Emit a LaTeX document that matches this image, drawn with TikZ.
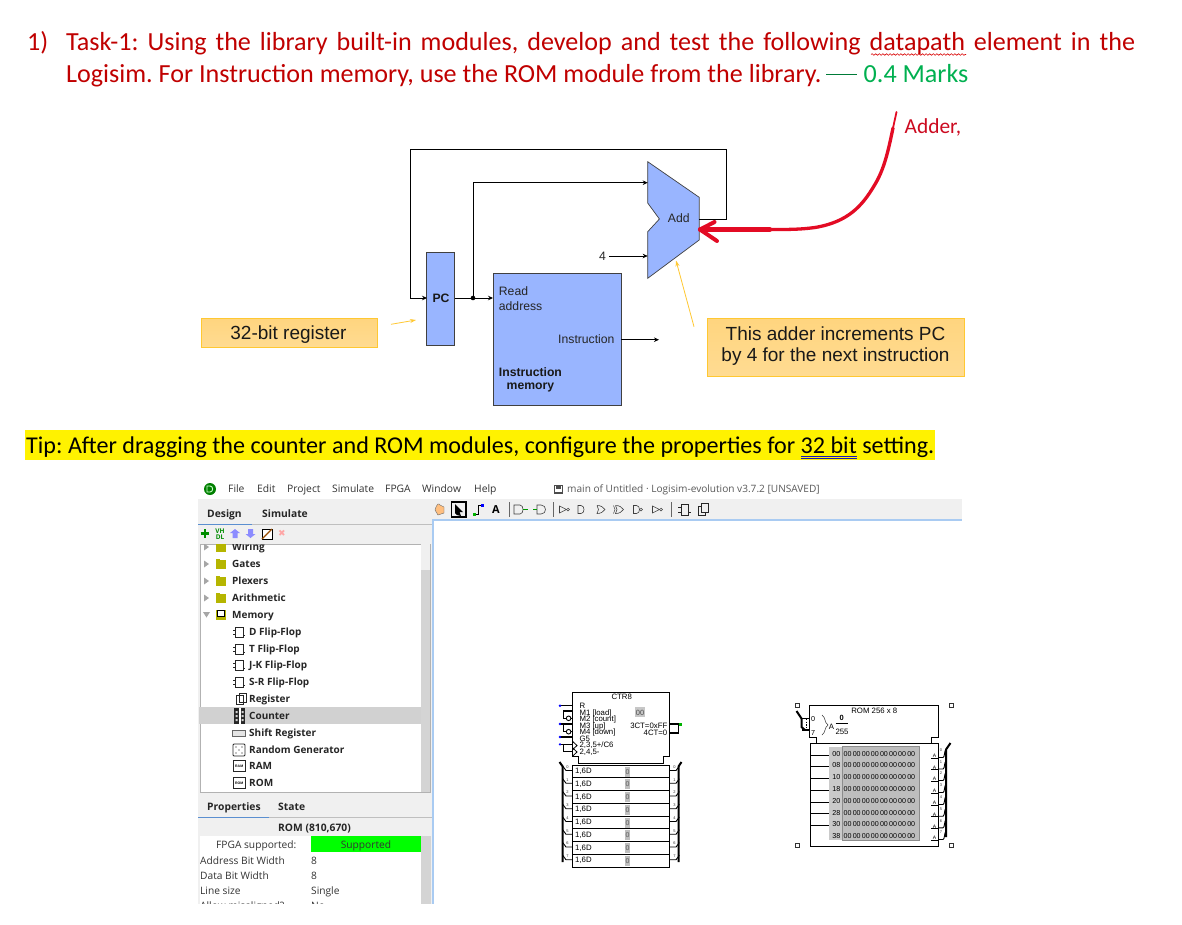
\documentclass[tikz,border=0pt]{standalone}
\usepackage{fontspec}
\setmainfont{Carlito}
\newfontfamily\hv{Liberation Sans}
\newfontfamily\ui{Open Sans}
\newfontfamily\djv{DejaVu Sans}
\usetikzlibrary{arrows.meta,decorations.pathmorphing}
\newcommand{\fsz}[1]{\fontsize{#1pt}{#1pt}\selectfont}
\definecolor{hred}{HTML}{C00000}
\definecolor{hgreen}{HTML}{00B050}
\definecolor{dblue}{HTML}{99B5FF}
\definecolor{oedge}{HTML}{FFC832}
\definecolor{pen}{HTML}{E30B24}
\definecolor{panel}{HTML}{F0F0F0}
\definecolor{sbar}{HTML}{D4D4D4}
\definecolor{tabblue}{HTML}{5B8FD0}
\definecolor{canvasblue}{HTML}{A9CBF2}
\definecolor{folder}{HTML}{B5B500}
\definecolor{romgray}{HTML}{BDBDBD}
\definecolor{notefill}{HTML}{FFD57F}
\tikzset{
  x=1pt,y=-1pt,
  head/.style={anchor=base west,inner sep=0,text=hred,font=\fsz{26.1}},
  wire/.style={draw=black,line width=1pt},
  arr/.style={wire,-{Stealth[length=5pt,width=4.5pt]}},
  block/.style={draw=black!75,fill=dblue,line width=0.7pt},
  lbl/.style={inner sep=0,font=\hv\fsz{12.2},text=black!85},
  blbl/.style={inner sep=0,font=\hv\bfseries\fsz{12.2},text=black!90},
  note/.style={draw=oedge,line width=0.8pt,top color=notefill,bottom color=notefill!85!white,inner sep=0,font=\hv\fsz{19},text=black!90,align=center},
  notetext/.style={inner sep=0,font=\hv\fsz{19},text=black!90},
  callout/.style={draw=oedge,line width=0.8pt,-{Stealth[length=6pt,width=4pt]}},
  menu/.style={anchor=base west,inner sep=0,font=\ui\fsz{10.3},text=black!80},
  tree/.style={anchor=base west,inner sep=0,font=\ui\bfseries\fsz{10},text=black!85},
  tab/.style={anchor=base west,inner sep=0,font=\ui\bfseries\fsz{10.3},text=black!85},
  prop/.style={anchor=base west,inner sep=0,font=\ui\fsz{10.2},text=black!80},
  chip/.style={inner sep=0,font=\hv\fsz{7.8},text=black},
  tiny/.style={inner sep=0,font=\hv\fsz{4},text=black!80},
  rom/.style={inner sep=0,font=\hv\fsz{7.2},text=black},
  cell/.style={draw=black,line width=1pt},
  bus/.style={draw=black,line width=2pt},
  pinwire/.style={draw=black,line width=1.2pt},
  handle/.style={draw=black!80,fill=white,line width=0.7pt,minimum size=4pt,inner sep=0},
  pin/.style={fill=blue,circle,inner sep=0,minimum size=2.6pt},
}
\begin{document}
\frenchspacing
\begin{tikzpicture}
\useasboundingbox (0,0) rectangle (1182,924);
\fill[white] (0,0) rectangle (1182,924);

% ---------- heading
\node[head] (num) at (27,50) {1)};
\node[head] (h1) at (66,50) {\makebox[1069pt][s]{Task-1: Using the library built-in modules, develop and test the following datapath element in the}};
\node[head] (h2) at (66,82) {Logisim. For Instruction memory, use the ROM module from the library.};
\draw[hgreen!70!black,line width=0.5pt] (826,74.5) -- (857,74.5);
\node[head,text=hgreen] (marks) at (863.5,82) {0.4 Marks};
\draw[red!85!black,line width=0.6pt,decorate,decoration={snake,amplitude=0.8pt,segment length=3.6pt}] (871,54.5) -- (966,54.5);

% ---------- datapath
\node[block,minimum width=27.5pt,minimum height=93pt,inner sep=0] (pc) at (440.5,298.5) {};
\node[blbl] (pclabel) at (441,298) {PC};
\node[block,minimum width=128pt,minimum height=132.5pt,inner sep=0] (im) at (557,339.2) {};
\node[lbl,anchor=west] (ra1) at (498.7,290.7) {Read};
\node[lbl,anchor=west] (ra2) at (498.7,306.5) {address};
\node[lbl,anchor=east] (ins) at (614.7,339.5) {Instruction};
\node[blbl,anchor=west] (im1) at (498.7,371.7) {Instruction};
\node[blbl,anchor=west] (im2) at (506.5,387.7) {memory};
\path[block] (647.7,161.7) -- (699.2,197.3) -- (699.2,240) -- (647.7,278.3) -- (647.7,231.7) -- (659.4,219) -- (647.7,203) -- cycle;
\node[lbl] (addlabel) at (678.8,218.5) {Add};
\coordinate (addtop) at (647.7,182.7);
\coordinate (addfour) at (647.7,256);
\coordinate (addout) at (699.2,219);
\coordinate (loopin) at (427,298);
\coordinate (imin) at (493,298);
\coordinate (junction) at (473,298);
\coordinate (insend) at (659,339.7);
\node[lbl,anchor=east] (four) at (606,256) {4};
\draw[arr] (addout) -- (726.7,219) -- (726.7,149.7) -- (410.4,149.7) -- (410.4,298) -- (loopin);
\draw[arr] (junction) -- (473,182.7) -- (addtop);
\draw[arr] (454.5,298) -- (imin);
\fill (junction) circle (2.3pt);
\draw[arr] (four.east) ++(3,0) -- (addfour);
\draw[arr] (621,339.7) -- (insend);

\node[note,minimum width=175.5pt,minimum height=29pt] (regbox) at (289.4,333.2) {};
\node[notetext] (regnote) at (288.5,334.5) {32-bit register};
\node[note,minimum width=257pt,minimum height=58pt] (addbox) at (835.5,347.7) {};
\node[notetext] (addnote1) at (835.5,334) {This adder increments PC};
\node[notetext] (addnote2) at (835.5,357) {by 4 for the next instruction};
\coordinate (c1a) at (391,324.3); \coordinate (c1b) at (416,320);
\coordinate (c2a) at (694,326.7); \coordinate (c2b) at (676,260.5);
\draw[callout] (c1a) -- (c1b);
\draw[callout] (c2a) -- (c2b);

% red ink
\coordinate (inktop) at (896.5,112);
\coordinate (inktip) at (700,229.5);
\draw[pen,line width=1.8pt,line cap=round] (inktop) -- (893,128);
\draw[pen,line width=3.3pt,line cap=round,line join=round]
  (893,128) .. controls (888,152) and (884,170) .. (874,186)
  .. controls (862,206) and (848,222) .. (815,227.5)
  .. controls (800,229.5) and (790,229.5) .. (770,229.5);
\draw[pen,line width=4.2pt,line cap=round] (770,229.5) -- (inktip);
\draw[pen,line width=4pt,line cap=round,line join=round] (714.5,222) -- (inktip) -- (717,241);
\node[anchor=base west,inner sep=0,text=pen!90!black,font=\fsz{21.4}] (adderlbl) at (904.5,133.5) {Adder,};

% ---------- tip
\fill[yellow] (25,430) rectangle (935,459.5);
\node[anchor=base west,inner sep=0,font=\fsz{24.1},text=black] (tip) at (26,453.5) {Tip: After dragging the counter and ROM modules, configure the properties for 32 bit setting.};
\draw[blue!70!black!90,line width=0.6pt] (801,456.6) -- (857,456.6) (801,458.2) -- (857,458.2);

% ---------- Logisim window
\fill[panel] (198,499) rectangle (962,520);
\fill[panel] (198,499) rectangle (432,905);
\fill[white] (200,544) rectangle (430,792);
\draw[black!30,line width=0.5pt] (200,544) rectangle (430,792);
\fill[panel] (421,544) rectangle (430,570);
\fill[sbar] (421,570) rectangle (430,792);
\draw[canvasblue,line width=2pt] (433,905) -- (433,520) -- (962,520);
% title bar
\fill[green!50!black] (210,489) circle (6pt);
\draw[white!80!green,line width=0.9pt] (207,486) -- (210,486) .. controls (213.5,486) and (213.5,492) .. (210,492) -- (207,492) -- cycle;
\foreach \t/\px in {File/228,Edit/257,Project/287,Simulate/332,FPGA/385,Window/422,Help/474}
  \node[menu] (menu\t) at (\px,492.7) {\t};
\draw[black!70,line width=1.2pt] (554.5,485.5) rectangle (562.5,493);
\fill[black!70] (556,485.5) rectangle (561,488.5);
\node[menu,text=black!65,font=\ui\fsz{10.1}] (wintitle) at (567,492.7) {main of Untitled · Logisim-evolution v3.7.2 [UNSAVED]};
% toolbar
\fill[orange!50!white,draw=black!60,line width=0.4pt] (435,510) .. controls (437,503) and (439,503) .. (440,505) -- (444,507) -- (444,513) -- (438,515) -- cycle;
\draw[black,line width=1.1pt] (451.5,502) rectangle (466,517);
\fill[black] (455,504) -- (463,512) -- (459.5,512) -- (461,516) -- (457,515) -- (455,513) -- cycle;
\draw[black,line width=0.9pt] (474.5,514) -- (478,514) -- (478,505) -- (482,505);
\fill[green!70!black] (473,512.5) rectangle (476,515.5);
\fill[blue] (481,503.5) rectangle (484,506.5);
\node[inner sep=0,font=\ui\bfseries\fsz{11},text=black] (toolA) at (496,509.5) {A};
\draw[black!60,line width=0.6pt] (509.5,502) -- (509.5,517) (553,502) -- (553,517) (671,502) -- (671,517);
\draw[black!75,line width=0.6pt] (514,505) -- (520,505) .. controls (524,505) and (524,514) .. (520,514) -- (514,514) -- cycle;
\draw[green!60!black,line width=0.8pt] (523,509.5) -- (528,509.5);
\draw[black!75,line width=0.6pt] (537,505) -- (541,505) .. controls (547,505) and (547,514) .. (541,514) -- (537,514) -- cycle;
\draw[green!60!black,line width=0.8pt] (533,509.5) -- (537,509.5);
\foreach \px in {559.5,652.5} {
  \draw[black!75,line width=0.6pt] (\px,506) -- (\px,513) -- (\px+7,509.5) -- cycle;
  \draw[black!75,line width=0.5pt] (\px+8.5,509.5) circle (1.4pt);
}
\foreach \px in {578,633.5} {
  \draw[black!75,line width=0.6pt] (\px,505.5) -- (\px+3,505.5) .. controls (\px+7,505.5) and (\px+7,513.5) .. (\px+3,513.5) -- (\px,513.5) -- cycle;
}
\draw[black!75,line width=0.5pt] (641,509.5) circle (1.4pt);
\foreach \px in {597,615.5} {
  \draw[black!75,line width=0.6pt] (\px,505.5) .. controls (\px+4,505.5) and (\px+6,507) .. (\px+8,509.5) .. controls (\px+6,512) and (\px+4,513.5) .. (\px,513.5) .. controls (\px+2,511) and (\px+2,508) .. (\px,505.5);
}
\draw[black!75,line width=0.5pt] (613.5,505.5) .. controls (615.5,508) and (615.5,511) .. (613.5,513.5);
\draw[black!85,line width=0.9pt] (681,504) rectangle (688,515) (678,507) -- (681,507) (678,512) -- (681,512) (688,512) -- (691,512);
\draw[black!85,line width=0.9pt,fill=panel] (698.5,506) rectangle (705.5,515);
\draw[black!85,line width=0.9pt,fill=panel] (701.5,503.5) rectangle (708.5,512.5);
% tabs
\node[tab] (tabdesign) at (207,517) {Design};
\node[tab] (tabsim) at (262,517) {Simulate};
\draw[tabblue,line width=1.3pt] (198,524.5) -- (252,524.5);
\draw[black!25,line width=0.5pt] (252,524.5) -- (432,524.5);
% small toolbar
\draw[green!55!black,line width=2.5pt] (200.5,533.5) -- (209,533.5) (204.8,529) -- (204.8,538);
\node[inner sep=0,align=center,font=\ui\bfseries\fsz{6.5},text=green!55!black] (vhdl) at (220,534) {\fontsize{6.5}{6}\selectfont VH\\DL};
\fill[blue!45!white] (235,529) -- (240,533) -- (237.5,533) -- (237.5,538) -- (232.5,538) -- (232.5,533) -- (230,533) -- cycle;
\fill[blue!45!white] (250.5,538) -- (255.5,534) -- (253,534) -- (253,529) -- (248,529) -- (248,534) -- (245.5,534) -- cycle;
\draw[black,line width=0.9pt,fill=white] (262,529) rectangle (272,539);
\draw[orange!60!black,line width=1.2pt] (262,539) -- (272,529);
\node[inner sep=0,font=\djv\fsz{9},text=red!35!white] (xmark) at (282,533.5) {✖};
% tree
\fill[black!18] (199,707) rectangle (421,723.5);
\begin{scope}
\clip (200,544.5) rectangle (430,792);
\foreach \t/\py in {Wiring/547,Gates/564,Plexers/581,Arithmetic/598} {
  \fill[black!35] (204,\py-3.5) -- (204,\py+3.5) -- (209,\py) -- cycle;
  \fill[folder] (216,\py-4) rectangle (226,\py+5);
  \fill[folder] (216,\py-5.5) rectangle (219.5,\py-3);
  \node[tree] at (232,\py+3.6) {\t};
}
\end{scope}
\fill[black!35] (203,612) -- (210,612) -- (206.5,617.5) -- cycle;
\fill[folder] (216,610) rectangle (226,620);
\draw[black,line width=0.6pt,fill=white] (217.5,610) rectangle (224,616);
\node[tree] (tmemory) at (232,618.6) {Memory};
\foreach \t/\py in {D Flip-Flop/632,T Flip-Flop/649,J-K Flip-Flop/665,S-R Flip-Flop/682} {
  \draw[black!85,line width=0.8pt] (235.5,\py-5) rectangle (243,\py+5) (233,\py-2) -- (235.5,\py-2) (233,\py+2.5) -- (235.5,\py+2.5) (243,\py+3) -- (245,\py+3);
  \node[tree] at (249,\py+3.6) {\t};
}
\draw[black!85,line width=0.8pt] (236,695) rectangle (243,704) (239,693) rectangle (246,702);
\node[tree] (treg) at (249,702.6) {Register};
\fill[black!85] (234,708) rectangle (245,724);
\fill[white] (238.5,708) rectangle (240.5,724);
\foreach \py in {711,715,719} \fill[black!18] (235.5,\py) rectangle (237.5,\py+2) (241.5,\py) rectangle (243.5,\py+2);
\node[tree] (tcounter) at (249,719.6) {Counter};
\draw[black!60,line width=0.5pt,fill=black!10] (232.5,730) rectangle (245.5,736);
\node[tree] (tshift) at (249,736.6) {Shift Register};
\draw[black!85,line width=0.8pt,rounded corners=1pt] (233,744) rectangle (245,756);
\foreach \a/\b in {236/747,242/747,239/750,236/753,242/753} \fill (\a,\b) circle (0.7pt);
\node[tree] (trandom) at (249,753.6) {Random Generator};
\foreach \t/\py in {RAM/766,ROM/783} {
  \draw[black!85,line width=0.9pt] (233.5,\py-5.5) rectangle (245,\py+5.5);
  \node[inner sep=0,font=\hv\bfseries\fsz{3.5}] at (239.2,\py) {\t};
  \node[tree] at (249,\py+3.6) {\t};
}
% properties
\node[tab] (tabprops) at (207,810) {Properties};
\node[tab] (tabstate) at (278,810) {State};
\draw[tabblue,line width=1.3pt] (198,817.5) -- (269,817.5);
\draw[black!25,line width=0.5pt] (269,817.5) -- (432,817.5);
\node[tab,anchor=base] (romtitle) at (314.5,831) {ROM (810,670)};
\fill[white] (200,836) rectangle (431,905);
\fill[sbar] (421,836) rectangle (431,905);
\fill[green] (311,836) rectangle (421,852);
\node[prop,anchor=base] (fpgaval) at (366,848) {Supported};
\node[prop] (fpgakey) at (216,848) {FPGA supported:};
\foreach \k/\v/\py in {Address Bit Width/8/864,Data Bit Width/8/879,Line size/Single/894,Allow misaligned?/No/909} {
  \node[prop] at (200,\py) {\k};
  \node[prop] at (311,\py) {\v};
}
\fill[white] (198,903.5) rectangle (440,924);

% ---------- counter
\draw[cell,fill=white] (572.7,692.3) -- (669.3,692.3) -- (669.3,756.7) -- (663.3,756.7) -- (663.3,763.3) -- (578,763.3) -- (578,756.7) -- (572.7,756.7) -- cycle;
\node[chip] (ctr) at (621.7,697) {CTR8};
\foreach \t/\py in {R/706,M1 [load]/713,M2 [count]/719.5,M3 [up]/726,M4 [down]/732.5,G5/739,{2,3,5+/C6}/745.5,{2,4,5-}/752}
  \node[chip,anchor=west] at (579.3,\py) {\t};
\fill[black!22] (635,707.3) rectangle (645,717.3);
\node[chip,text=black!70,font=\hv\fsz{7.5}] (ctrval) at (640,713) {00};
\node[chip,anchor=east] (ct1) at (667.5,726) {3CT=0xFF};
\node[chip,anchor=east] (ct2) at (667.5,733) {4CT=0};
\draw[pinwire] (560,705.7) -- (572.7,705.7) (560,724) -- (572.7,724) (560,737) -- (572.7,737) (560,744.3) -- (572.7,744.3);
\draw[pinwire] (563.3,711) -- (572.7,711) (563.3,711) -- (563.3,718.3) -- (566.3,718.3) (571,718.3) -- (572.7,718.3);
\draw[pinwire] (563.3,724) -- (563.3,731.7) -- (566.3,731.7) (571,731.7) -- (572.7,731.7);
\draw[pinwire] (563.3,744.3) -- (563.3,751.7) -- (572.7,751.7);
\draw[black,line width=0.9pt,fill=white] (568.6,718.3) circle (2.3pt) (568.6,731.7) circle (2.3pt);
\draw[black,line width=0.8pt] (572.7,741.5) -- (577,745.5) -- (572.7,749.5) (572.7,748) -- (577,752) -- (572.7,756);
\foreach \py in {705.7,724,737,744.3} \node[pin] at (560,\py) {};
\draw[pinwire] (669.3,724) -- (678.5,724) (669.3,733) -- (678.5,733) -- (678.5,723.5);
\fill[green!70!black] (679,723) rectangle (682,725.5);
\foreach \i in {0,...,7} {
  \pgfmathsetmacro{\ytop}{765+\i*12.75}
  \draw[cell,fill=white] (572.7,\ytop) rectangle (669.3,\ytop+12.75);
  \node[chip,anchor=west] at (575,\ytop+6.5) {1,6D};
  \fill[black!25] (625,\ytop+1.5) rectangle (630,\ytop+11.5);
  \node[chip,text=black!65,font=\hv\fsz{7}] at (627.5,\ytop+6.8) {0};
  \draw[black,line width=0.9pt] (562.7,\ytop+1) .. controls (565,\ytop+2) and (564,\ytop+5) .. (566,\ytop+5.5) -- (572.7,\ytop+5.5);
  \draw[black,line width=0.9pt] (679.3,\ytop+1) .. controls (677,\ytop+2) and (678,\ytop+5) .. (676,\ytop+5.5) -- (669.3,\ytop+5.5);
  \node[tiny] at (567.5,\ytop+2) {\i};
  \node[tiny] at (674.5,\ytop+2) {\i};
}
\draw[bus] (559.5,762) -- (562.7,766.5) -- (562.7,862);
\draw[bus] (681.5,762) -- (678.5,766.5) -- (678.5,862);

% ---------- ROM
\foreach \n/\a/\b in {hA/797.7/705,hB/951/705,hC/797.7/845.7,hD/951/845.7}
  \node[handle] (\n) at (\a,\b) {};
\draw[cell,fill=white] (809.3,705) -- (938.3,705) -- (938.3,737.3) -- (931,737.3) -- (931,743.3) -- (816.7,743.3) -- (816.7,737.3) -- (809.3,737.3) -- cycle;
\node[rom,font=\hv\fsz{7.8}] (romname) at (874.3,711) {ROM 256 x 8};
\node[rom,font=\hv\bfseries\fsz{7.5}] (romzero) at (841.7,718.3) {0};
\draw[black,line width=0.7pt] (835.7,723.6) -- (848.3,723.6);
\node[rom,font=\hv\fsz{7.8}] (rom255) at (842,731.5) {255};
\node[rom,font=\hv\fsz{7.8}] (romA) at (831.5,726.7) {A};
\draw[black!80,line width=0.5pt] (822,715) .. controls (826,718) and (824,722) .. (828,725) .. controls (824,728) and (826,732) .. (822,735);
\node[rom] (ra0) at (813,719.5) {0};
\node[rom] (ra7) at (813,732.7) {7};
\draw[black,line width=1.1pt] (802,718.5) -- (809.3,718.5) (802,730) -- (809.3,730);
\draw[black,line width=0.8pt,dash pattern=on 1.3pt off 1.3pt] (806,719) -- (806,730);
\draw[bus] (796.5,711) -- (801.5,718.5) -- (801.5,727) -- (805,730);
\draw[cell,fill=white] (810,743.3) rectangle (938.3,846.7);
\fill[romgray!80!white] (829,746.7) rectangle (841.7,840);
\fill[romgray] (842.3,746.7) rectangle (919.3,840);
\draw[black!45,line width=0.6pt] (842.3,746.7) rectangle (919.3,840);
\foreach \ad/\py [count=\c] in {00/754,08/765.5,10/777,18/789,20/801,28/812.7,30/824.3,38/836} {
  \draw[black,line width=0.8pt] (810,\py-10.6) -- (829,\py-10.6);
  \node[rom,anchor=east] at (840.5,\py) {\ad};
  \node[rom,anchor=west,font=\hv\fsz{7.1}] at (843.5,\py) {00\,00\,00\,00\,00\,00\,00\,00};
  \draw[black,line width=0.8pt] (931,\py+4) -- (938.3,\py+4);
  \draw[black,line width=0.9pt] (938.3,\py+3.5) -- (943,\py+3.5) .. controls (945,\py+3) and (944,\py-3) .. (946,\py-5);
  \node[tiny] at (941,\py-3.5) {\the\numexpr\c-1\relax};
  \node[rom,font=\hv\fsz{5}] at (934.5,\py+2.2) {A};
}
\draw[bus] (950.5,743) -- (946,749.5) -- (946,837);
\end{tikzpicture}
\end{document}
